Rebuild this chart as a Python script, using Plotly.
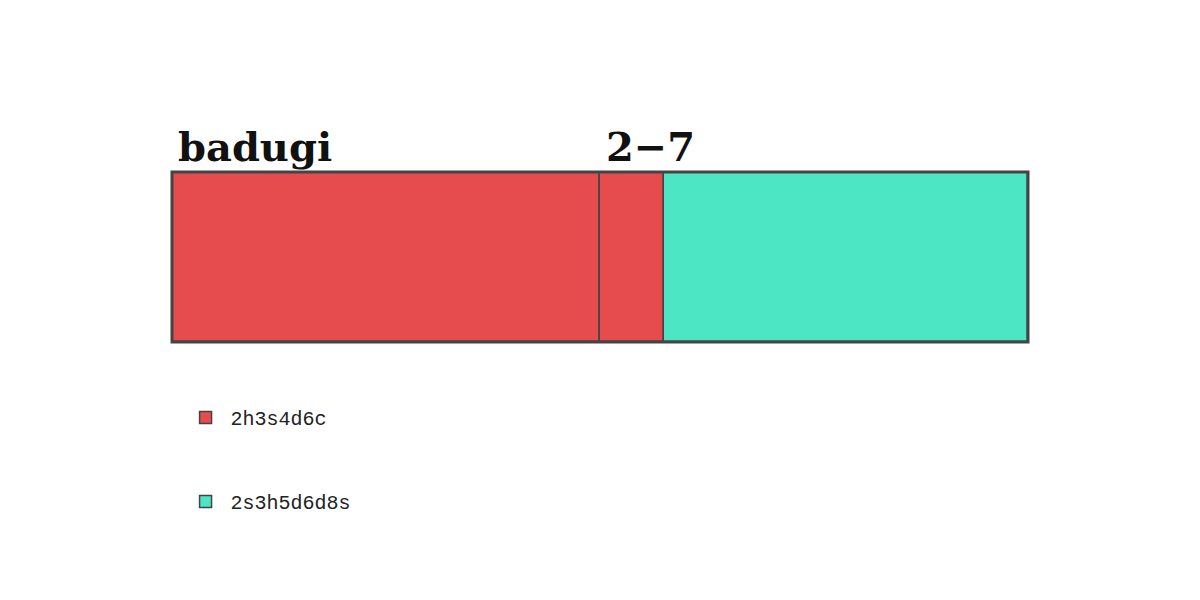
import plotly.graph_objects as go

groups = ["badugi", "2−7"]
group_widths = [0.5, 0.5]
hands = ["2h3s4d6c", "2s3h5d6d8s"]
colors = ["#e64c4e", "#4de6c5"]
# share of each hand within each group
shares = {"2h3s4d6c": [1.0, 0.15], "2s3h5d6d8s": [0.0, 0.85]}

starts = [sum(group_widths[:i]) for i in range(len(groups))]
fig = go.Figure()
for hand, col in zip(hands, colors):
    xs, bases = [], []
    for gi in range(len(groups)):
        prev = sum(shares[h][gi] for h in hands[:hands.index(hand)])
        xs.append(shares[hand][gi] * group_widths[gi])
        bases.append(starts[gi] + prev * group_widths[gi])
    fig.add_trace(go.Bar(y=["r"] * len(xs), x=xs, base=bases, orientation="h",
                         name=hand, legendgroup=hand,
                         marker=dict(color=col, line=dict(color="#444444", width=1.5)),
                         hoverinfo="skip"))

for g, s in zip(groups, starts):
    fig.add_annotation(x=s, y=1, xref="x", yref="paper", text="<b>" + g + "</b>",
                       showarrow=False, xanchor="left", yanchor="bottom", xshift=4, yshift=0,
                       font=dict(family="DejaVu Serif", size=40, color="#111"))

fig.update_layout(
    width=1200, height=600, barmode="overlay", bargap=0,
    margin=dict(l=164, r=180, t=164, b=266),
    plot_bgcolor="white", paper_bgcolor="white",
    xaxis=dict(range=[0, 1], visible=False),
    yaxis=dict(visible=False),
    shapes=[dict(type="rect", xref="paper", yref="paper", x0=0, x1=1, y0=0, y1=1,
                 line=dict(color="#444444", width=3))],
    legend=dict(x=0.01, y=-0.33, xanchor="left", yanchor="top", tracegroupgap=55,
                traceorder="grouped", font=dict(family="Liberation Mono", size=20, color="#222"),
                itemwidth=40),
)
fig.write_html("out.html")
